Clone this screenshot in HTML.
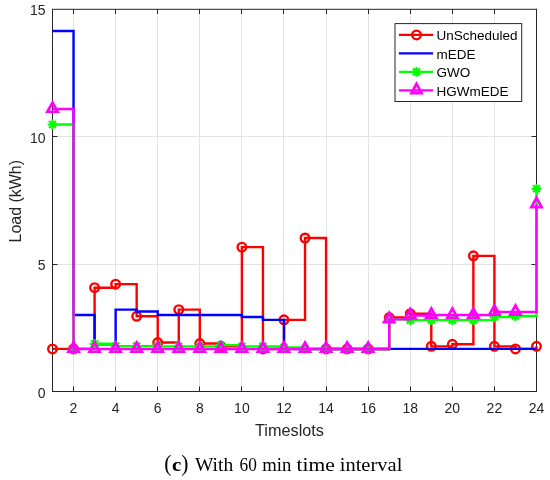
<!DOCTYPE html>
<html><head><meta charset="utf-8"><style>
html,body{margin:0;padding:0;background:#fff;}
body{width:550px;height:480px;overflow:hidden;position:relative;}
svg{position:absolute;left:0;top:0;}
.tk{font-family:"Liberation Sans",Arial,sans-serif;font-size:14px;fill:#262626;}
.lg{font-family:"Liberation Sans",Arial,sans-serif;font-size:13.5px;fill:#000;}
.cp{font-family:"Liberation Serif","DejaVu Serif",serif;font-size:18.5px;fill:#000;}
</style></head><body>
<svg width="550" height="480" viewBox="0 0 550 480">
<rect x="0" y="0" width="550" height="480" fill="#fff"/>
<path d="M73.5,9.0V391.5M115.5,9.0V391.5M157.5,9.0V391.5M199.5,9.0V391.5M241.5,9.0V391.5M283.5,9.0V391.5M326.5,9.0V391.5M368.5,9.0V391.5M410.5,9.0V391.5M452.5,9.0V391.5M494.5,9.0V391.5M536.5,9.0V391.5M52.5,264.5H536.5M52.5,136.5H536.5" stroke="#e3e3e3" stroke-width="1" fill="none"/>
<path d="M73.5,391.5V386.5M73.5,9.0V14.0M115.5,391.5V386.5M115.5,9.0V14.0M157.5,391.5V386.5M157.5,9.0V14.0M199.5,391.5V386.5M199.5,9.0V14.0M241.5,391.5V386.5M241.5,9.0V14.0M283.5,391.5V386.5M283.5,9.0V14.0M326.5,391.5V386.5M326.5,9.0V14.0M368.5,391.5V386.5M368.5,9.0V14.0M410.5,391.5V386.5M410.5,9.0V14.0M452.5,391.5V386.5M452.5,9.0V14.0M494.5,391.5V386.5M494.5,9.0V14.0M536.5,391.5V386.5M536.5,9.0V14.0M52.5,264.5H57.5M536.5,264.5H531.5M52.5,136.5H57.5M536.5,136.5H531.5" stroke="#262626" stroke-width="1" fill="none"/>
<path d="M52.5,9.3H536.5M52.5,391.5H536.5M52.5,8.8V392.0M536.5,8.8V392.0" stroke="#262626" stroke-width="1" fill="none"/>
<path d="M52.50,348.92 L73.54,348.92 L73.54,348.92 L94.59,348.92 L94.59,287.71 L115.63,287.71 L115.63,284.14 L136.67,284.14 L136.67,316.27 L157.72,316.27 L157.72,342.54 L178.76,342.54 L178.76,309.64 L199.80,309.64 L199.80,343.56 L220.85,343.56 L220.85,346.37 L241.89,346.37 L241.89,247.17 L262.93,247.17 L262.93,348.97 L283.98,348.97 L283.98,319.85 L305.02,319.85 L305.02,237.99 L326.07,237.99 L326.07,348.97 L347.11,348.97 L347.11,348.97 L368.15,348.97 L368.15,348.97 L389.20,348.97 L389.20,317.55 L410.24,317.55 L410.24,313.73 L431.28,313.73 L431.28,346.37 L452.33,346.37 L452.33,344.32 L473.37,344.32 L473.37,255.84 L494.41,255.84 L494.41,346.37 L515.46,346.37 L515.46,348.92 L536.50,348.92 L536.50,346.37" stroke="#ff0000" stroke-width="2.4" fill="none" stroke-linejoin="miter"/>
<g stroke="#ff0000" stroke-width="2.4" fill="none"><circle cx="52.50" cy="348.92" r="4.3"/><circle cx="73.54" cy="348.92" r="4.3"/><circle cx="94.59" cy="287.71" r="4.3"/><circle cx="115.63" cy="284.14" r="4.3"/><circle cx="136.67" cy="316.27" r="4.3"/><circle cx="157.72" cy="342.54" r="4.3"/><circle cx="178.76" cy="309.64" r="4.3"/><circle cx="199.80" cy="343.56" r="4.3"/><circle cx="220.85" cy="346.37" r="4.3"/><circle cx="241.89" cy="247.17" r="4.3"/><circle cx="262.93" cy="348.97" r="4.3"/><circle cx="283.98" cy="319.85" r="4.3"/><circle cx="305.02" cy="237.99" r="4.3"/><circle cx="326.07" cy="348.97" r="4.3"/><circle cx="347.11" cy="348.97" r="4.3"/><circle cx="368.15" cy="348.97" r="4.3"/><circle cx="389.20" cy="317.55" r="4.3"/><circle cx="410.24" cy="313.73" r="4.3"/><circle cx="431.28" cy="346.37" r="4.3"/><circle cx="452.33" cy="344.32" r="4.3"/><circle cx="473.37" cy="255.84" r="4.3"/><circle cx="494.41" cy="346.37" r="4.3"/><circle cx="515.46" cy="348.92" r="4.3"/><circle cx="536.50" cy="346.37" r="4.3"/></g>
<path d="M52.50,30.93 L73.54,30.93 L73.54,315.00 L94.59,315.00 L94.59,344.32 L115.63,344.32 L115.63,309.64 L136.67,309.64 L136.67,311.43 L157.72,311.43 L157.72,315.00 L178.76,315.00 L178.76,315.00 L199.80,315.00 L199.80,315.00 L220.85,315.00 L220.85,315.00 L241.89,315.00 L241.89,317.04 L262.93,317.04 L262.93,319.85 L283.98,319.85 L283.98,348.97 L305.02,348.97 L305.02,348.97 L326.07,348.97 L326.07,348.97 L347.11,348.97 L347.11,348.97 L368.15,348.97 L368.15,348.97 L389.20,348.97 L389.20,348.92 L410.24,348.92 L410.24,348.92 L431.28,348.92 L431.28,348.92 L452.33,348.92 L452.33,348.92 L473.37,348.92 L473.37,348.92 L494.41,348.92 L494.41,348.92 L515.46,348.92 L515.46,348.92 L536.50,348.92 L536.50,348.92" stroke="#0000ff" stroke-width="2.4" fill="none" stroke-linejoin="miter"/>
<path d="M52.50,124.51 L73.54,124.51 L73.54,348.92 L94.59,348.92 L94.59,343.81 L115.63,343.81 L115.63,346.11 L136.67,346.11 L136.67,346.11 L157.72,346.11 L157.72,346.37 L178.76,346.37 L178.76,346.37 L199.80,346.37 L199.80,346.37 L220.85,346.37 L220.85,345.09 L241.89,345.09 L241.89,346.37 L262.93,346.37 L262.93,346.37 L283.98,346.37 L283.98,347.38 L305.02,347.38 L305.02,348.97 L326.07,348.97 L326.07,348.97 L347.11,348.97 L347.11,348.97 L368.15,348.97 L368.15,348.97 L389.20,348.97 L389.20,319.33 L410.24,319.33 L410.24,320.10 L431.28,320.10 L431.28,320.10 L452.33,320.10 L452.33,320.10 L473.37,320.10 L473.37,320.10 L494.41,320.10 L494.41,317.04 L515.46,317.04 L515.46,316.02 L536.50,316.02 L536.50,188.78" stroke="#00ff00" stroke-width="2.4" fill="none" stroke-linejoin="miter"/>
<g stroke="#00ff00" stroke-width="2.2" fill="none"><path d="M47.60,124.51H57.40M52.50,119.61V129.41M49.00,121.01L56.00,128.01M49.00,128.01L56.00,121.01"/><path d="M68.64,348.92H78.44M73.54,344.02V353.81M70.04,345.42L77.04,352.42M70.04,352.42L77.04,345.42"/><path d="M89.69,343.81H99.49M94.59,338.92V348.71M91.09,340.31L98.09,347.31M91.09,347.31L98.09,340.31"/><path d="M110.73,346.11H120.53M115.63,341.21V351.01M112.13,342.61L119.13,349.61M112.13,349.61L119.13,342.61"/><path d="M131.77,346.11H141.57M136.67,341.21V351.01M133.17,342.61L140.17,349.61M133.17,349.61L140.17,342.61"/><path d="M152.82,346.37H162.62M157.72,341.47V351.26M154.22,342.87L161.22,349.87M154.22,349.87L161.22,342.87"/><path d="M173.86,346.37H183.66M178.76,341.47V351.26M175.26,342.87L182.26,349.87M175.26,349.87L182.26,342.87"/><path d="M194.90,346.37H204.70M199.80,341.47V351.26M196.30,342.87L203.30,349.87M196.30,349.87L203.30,342.87"/><path d="M215.95,345.09H225.75M220.85,340.19V349.99M217.35,341.59L224.35,348.59M217.35,348.59L224.35,341.59"/><path d="M236.99,346.37H246.79M241.89,341.47V351.26M238.39,342.87L245.39,349.87M238.39,349.87L245.39,342.87"/><path d="M258.03,346.37H267.83M262.93,341.47V351.26M259.43,342.87L266.43,349.87M259.43,349.87L266.43,342.87"/><path d="M279.08,347.38H288.88M283.98,342.49V352.28M280.48,343.88L287.48,350.88M280.48,350.88L287.48,343.88"/><path d="M300.12,348.97H309.92M305.02,344.07V353.87M301.52,345.47L308.52,352.47M301.52,352.47L308.52,345.47"/><path d="M321.17,348.97H330.97M326.07,344.07V353.87M322.57,345.47L329.57,352.47M322.57,352.47L329.57,345.47"/><path d="M342.21,348.97H352.01M347.11,344.07V353.87M343.61,345.47L350.61,352.47M343.61,352.47L350.61,345.47"/><path d="M363.25,348.97H373.05M368.15,344.07V353.87M364.65,345.47L371.65,352.47M364.65,352.47L371.65,345.47"/><path d="M384.30,319.33H394.10M389.20,314.44V324.23M385.70,315.83L392.70,322.83M385.70,322.83L392.70,315.83"/><path d="M405.34,320.10H415.14M410.24,315.20V325.00M406.74,316.60L413.74,323.60M406.74,323.60L413.74,316.60"/><path d="M426.38,320.10H436.18M431.28,315.20V325.00M427.78,316.60L434.78,323.60M427.78,323.60L434.78,316.60"/><path d="M447.43,320.10H457.23M452.33,315.20V325.00M448.83,316.60L455.83,323.60M448.83,323.60L455.83,316.60"/><path d="M468.47,320.10H478.27M473.37,315.20V325.00M469.87,316.60L476.87,323.60M469.87,323.60L476.87,316.60"/><path d="M489.51,317.04H499.31M494.41,312.14V321.94M490.91,313.54L497.91,320.54M490.91,320.54L497.91,313.54"/><path d="M510.56,316.02H520.36M515.46,311.12V320.92M511.96,312.52L518.96,319.52M511.96,319.52L518.96,312.52"/><path d="M531.60,188.78H541.40M536.50,183.88V193.68M533.00,185.28L540.00,192.28M533.00,192.28L540.00,185.28"/></g>
<path d="M52.50,108.96 L73.54,108.96 L73.54,348.97 L94.59,348.97 L94.59,348.97 L115.63,348.97 L115.63,348.97 L136.67,348.97 L136.67,348.97 L157.72,348.97 L157.72,348.97 L178.76,348.97 L178.76,348.97 L199.80,348.97 L199.80,348.97 L220.85,348.97 L220.85,348.97 L241.89,348.97 L241.89,348.97 L262.93,348.97 L262.93,348.97 L283.98,348.97 L283.98,348.97 L305.02,348.97 L305.02,348.97 L326.07,348.97 L326.07,348.97 L347.11,348.97 L347.11,348.97 L368.15,348.97 L368.15,348.97 L389.20,348.97 L389.20,319.33 L410.24,319.33 L410.24,315.51 L431.28,315.51 L431.28,315.00 L452.33,315.00 L452.33,315.00 L473.37,315.00 L473.37,315.00 L494.41,315.00 L494.41,311.94 L515.46,311.94 L515.46,311.94 L536.50,311.94 L536.50,204.33" stroke="#ff00ff" stroke-width="2.4" fill="none" stroke-linejoin="miter"/>
<g stroke="#ff00ff" stroke-width="2.7" fill="none" stroke-linejoin="miter"><path d="M52.50,102.46L57.60,111.76L47.40,111.76Z"/><path d="M73.54,342.47L78.64,351.77L68.44,351.77Z"/><path d="M94.59,342.47L99.69,351.77L89.49,351.77Z"/><path d="M115.63,342.47L120.73,351.77L110.53,351.77Z"/><path d="M136.67,342.47L141.77,351.77L131.57,351.77Z"/><path d="M157.72,342.47L162.82,351.77L152.62,351.77Z"/><path d="M178.76,342.47L183.86,351.77L173.66,351.77Z"/><path d="M199.80,342.47L204.90,351.77L194.70,351.77Z"/><path d="M220.85,342.47L225.95,351.77L215.75,351.77Z"/><path d="M241.89,342.47L246.99,351.77L236.79,351.77Z"/><path d="M262.93,342.47L268.03,351.77L257.83,351.77Z"/><path d="M283.98,342.47L289.08,351.77L278.88,351.77Z"/><path d="M305.02,342.47L310.12,351.77L299.92,351.77Z"/><path d="M326.07,342.47L331.17,351.77L320.97,351.77Z"/><path d="M347.11,342.47L352.21,351.77L342.01,351.77Z"/><path d="M368.15,342.47L373.25,351.77L363.05,351.77Z"/><path d="M389.20,312.83L394.30,322.13L384.10,322.13Z"/><path d="M410.24,309.01L415.34,318.31L405.14,318.31Z"/><path d="M431.28,308.50L436.38,317.80L426.18,317.80Z"/><path d="M452.33,308.50L457.43,317.80L447.23,317.80Z"/><path d="M473.37,308.50L478.47,317.80L468.27,317.80Z"/><path d="M494.41,305.44L499.51,314.74L489.31,314.74Z"/><path d="M515.46,305.44L520.56,314.74L510.36,314.74Z"/><path d="M536.50,197.83L541.60,207.13L531.40,207.13Z"/></g>
<text class="tk" x="45.5" y="397.5" text-anchor="end">0</text>
<text class="tk" x="45.5" y="270.0" text-anchor="end">5</text>
<text class="tk" x="45.5" y="142.5" text-anchor="end">10</text>
<text class="tk" x="45.5" y="15.0" text-anchor="end">15</text>
<text class="tk" x="73.5" y="413.2" text-anchor="middle">2</text>
<text class="tk" x="115.6" y="413.2" text-anchor="middle">4</text>
<text class="tk" x="157.7" y="413.2" text-anchor="middle">6</text>
<text class="tk" x="199.8" y="413.2" text-anchor="middle">8</text>
<text class="tk" x="241.9" y="413.2" text-anchor="middle">10</text>
<text class="tk" x="284.0" y="413.2" text-anchor="middle">12</text>
<text class="tk" x="326.1" y="413.2" text-anchor="middle">14</text>
<text class="tk" x="368.2" y="413.2" text-anchor="middle">16</text>
<text class="tk" x="410.2" y="413.2" text-anchor="middle">18</text>
<text class="tk" x="452.3" y="413.2" text-anchor="middle">20</text>
<text class="tk" x="494.4" y="413.2" text-anchor="middle">22</text>
<text class="tk" x="536.5" y="413.2" text-anchor="middle">24</text>
<text class="tk" x="255" y="435.6" textLength="69" lengthAdjust="spacingAndGlyphs" style="font-size:16.3px">Timeslots</text>
<text class="tk" transform="translate(21,242.5) rotate(-90)" x="0" y="0" textLength="82.5" lengthAdjust="spacingAndGlyphs" style="font-size:16.3px">Load (kWh)</text>
<rect x="395.0" y="23.6" width="126.70000000000005" height="77.9" fill="#fff" stroke="#262626" stroke-width="1"/>
<path d="M398.9,34.9H433.1" stroke="#ff0000" stroke-width="2.4"/>
<g stroke="#ff0000" stroke-width="2.4" fill="none"><circle cx="416.50" cy="34.90" r="4.3"/></g>
<text class="lg" x="436.4" y="40.4">UnScheduled</text>
<path d="M398.9,53.4H433.1" stroke="#0000ff" stroke-width="2.4"/>
<text class="lg" x="436.4" y="58.9">mEDE</text>
<path d="M398.9,71.9H433.1" stroke="#00ff00" stroke-width="2.4"/>
<g stroke="#00ff00" stroke-width="2.2" fill="none"><path d="M411.60,71.90H421.40M416.50,67.00V76.80M413.00,68.40L420.00,75.40M413.00,75.40L420.00,68.40"/></g>
<text class="lg" x="436.4" y="77.4">GWO</text>
<path d="M398.9,90.4H433.1" stroke="#ff00ff" stroke-width="2.4"/>
<g stroke="#ff00ff" stroke-width="2.7" fill="none"><path d="M416.50,83.90L421.60,93.20L411.40,93.20Z"/></g>
<text class="lg" x="436.4" y="95.9">HGWmEDE</text>
<text class="cp" x="172.0" y="471" textLength="9.3" lengthAdjust="spacingAndGlyphs" style="font-weight:bold;">c</text>
<text class="cp" x="194.9" y="471" textLength="38.3" lengthAdjust="spacingAndGlyphs" style="">With</text>
<text class="cp" x="239.5" y="471" textLength="17.3" lengthAdjust="spacingAndGlyphs" style="">60</text>
<text class="cp" x="262.3" y="471" textLength="29.1" lengthAdjust="spacingAndGlyphs" style="">min</text>
<text class="cp" x="296.5" y="471" textLength="38.2" lengthAdjust="spacingAndGlyphs" style="">time</text>
<text class="cp" x="339.7" y="471" textLength="62.7" lengthAdjust="spacingAndGlyphs" style="">interval</text>
<text class="cp" x="164.3" y="471" textLength="7.2" lengthAdjust="spacingAndGlyphs" style="font-size:24px">(</text>
<text class="cp" x="181.2" y="471" textLength="7.2" lengthAdjust="spacingAndGlyphs" style="font-size:24px">)</text>
</svg>
</body></html>
